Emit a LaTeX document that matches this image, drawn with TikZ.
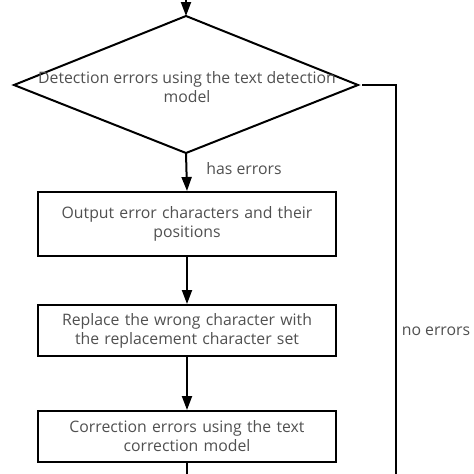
\documentclass[tikz,border=0pt]{standalone}
\usepackage{fontspec}
\setmainfont{Open Sans}
\usetikzlibrary{arrows.meta}
\definecolor{txt}{HTML}{505050}
\begin{document}
\begin{tikzpicture}[x=1pt,y=-1pt,
  line width=2pt,
  arr/.style={-{Triangle[width=10pt,length=14pt]}},
  stepbox/.style={draw, minimum width=298pt, inner sep=0pt, text width=296pt, align=center, font=\fontsize{15.8}{19}\selectfont, text=txt},
  lbl/.style={font=\fontsize{15.8}{19}\selectfont, text=txt, inner sep=0pt}]
\useasboundingbox (0,0) rectangle (474,474);
% diamond
\coordinate (dt) at (186,16);
\coordinate (dl) at (14,85);
\coordinate (dr) at (358,85);
\coordinate (db) at (186,153);
\draw (dt) -- (dr) -- (db) -- (dl) -- cycle;
\node[lbl, align=center] (dec) at (187,87) {Detection errors using the text detection\\model};
% boxes
\node[stepbox, minimum height=64pt] (b1) at (187,224) {Output error characters and their\\positions};
\node[stepbox, minimum height=51pt] (b2) at (187,330.5) {Replace the wrong character with\\the replacement character set};
\node[stepbox, minimum height=51pt] (b3) at (187,436.5) {Correction errors using the text\\correction model};
% connectors
\coordinate (top) at (186,-2);
\coordinate (bot) at (187,480);
\coordinate (rc) at (396,85);
\coordinate (rb) at (396,480);
\draw[arr] (top) -- (dt);
\draw[arr] (db) -- (b1.north);
\draw[arr] (b1.south) -- (b2.north);
\draw[arr] (b2.south) -- (b3.north);
\draw (b3.south) -- (bot);
\draw ([xshift=4pt]dr) -- (rc) -- (rb);
% labels
\node[lbl] (he) at (244,169) {has errors};
\node[lbl] (ne) at (436,331) {no errors};
\end{tikzpicture}
\end{document}
